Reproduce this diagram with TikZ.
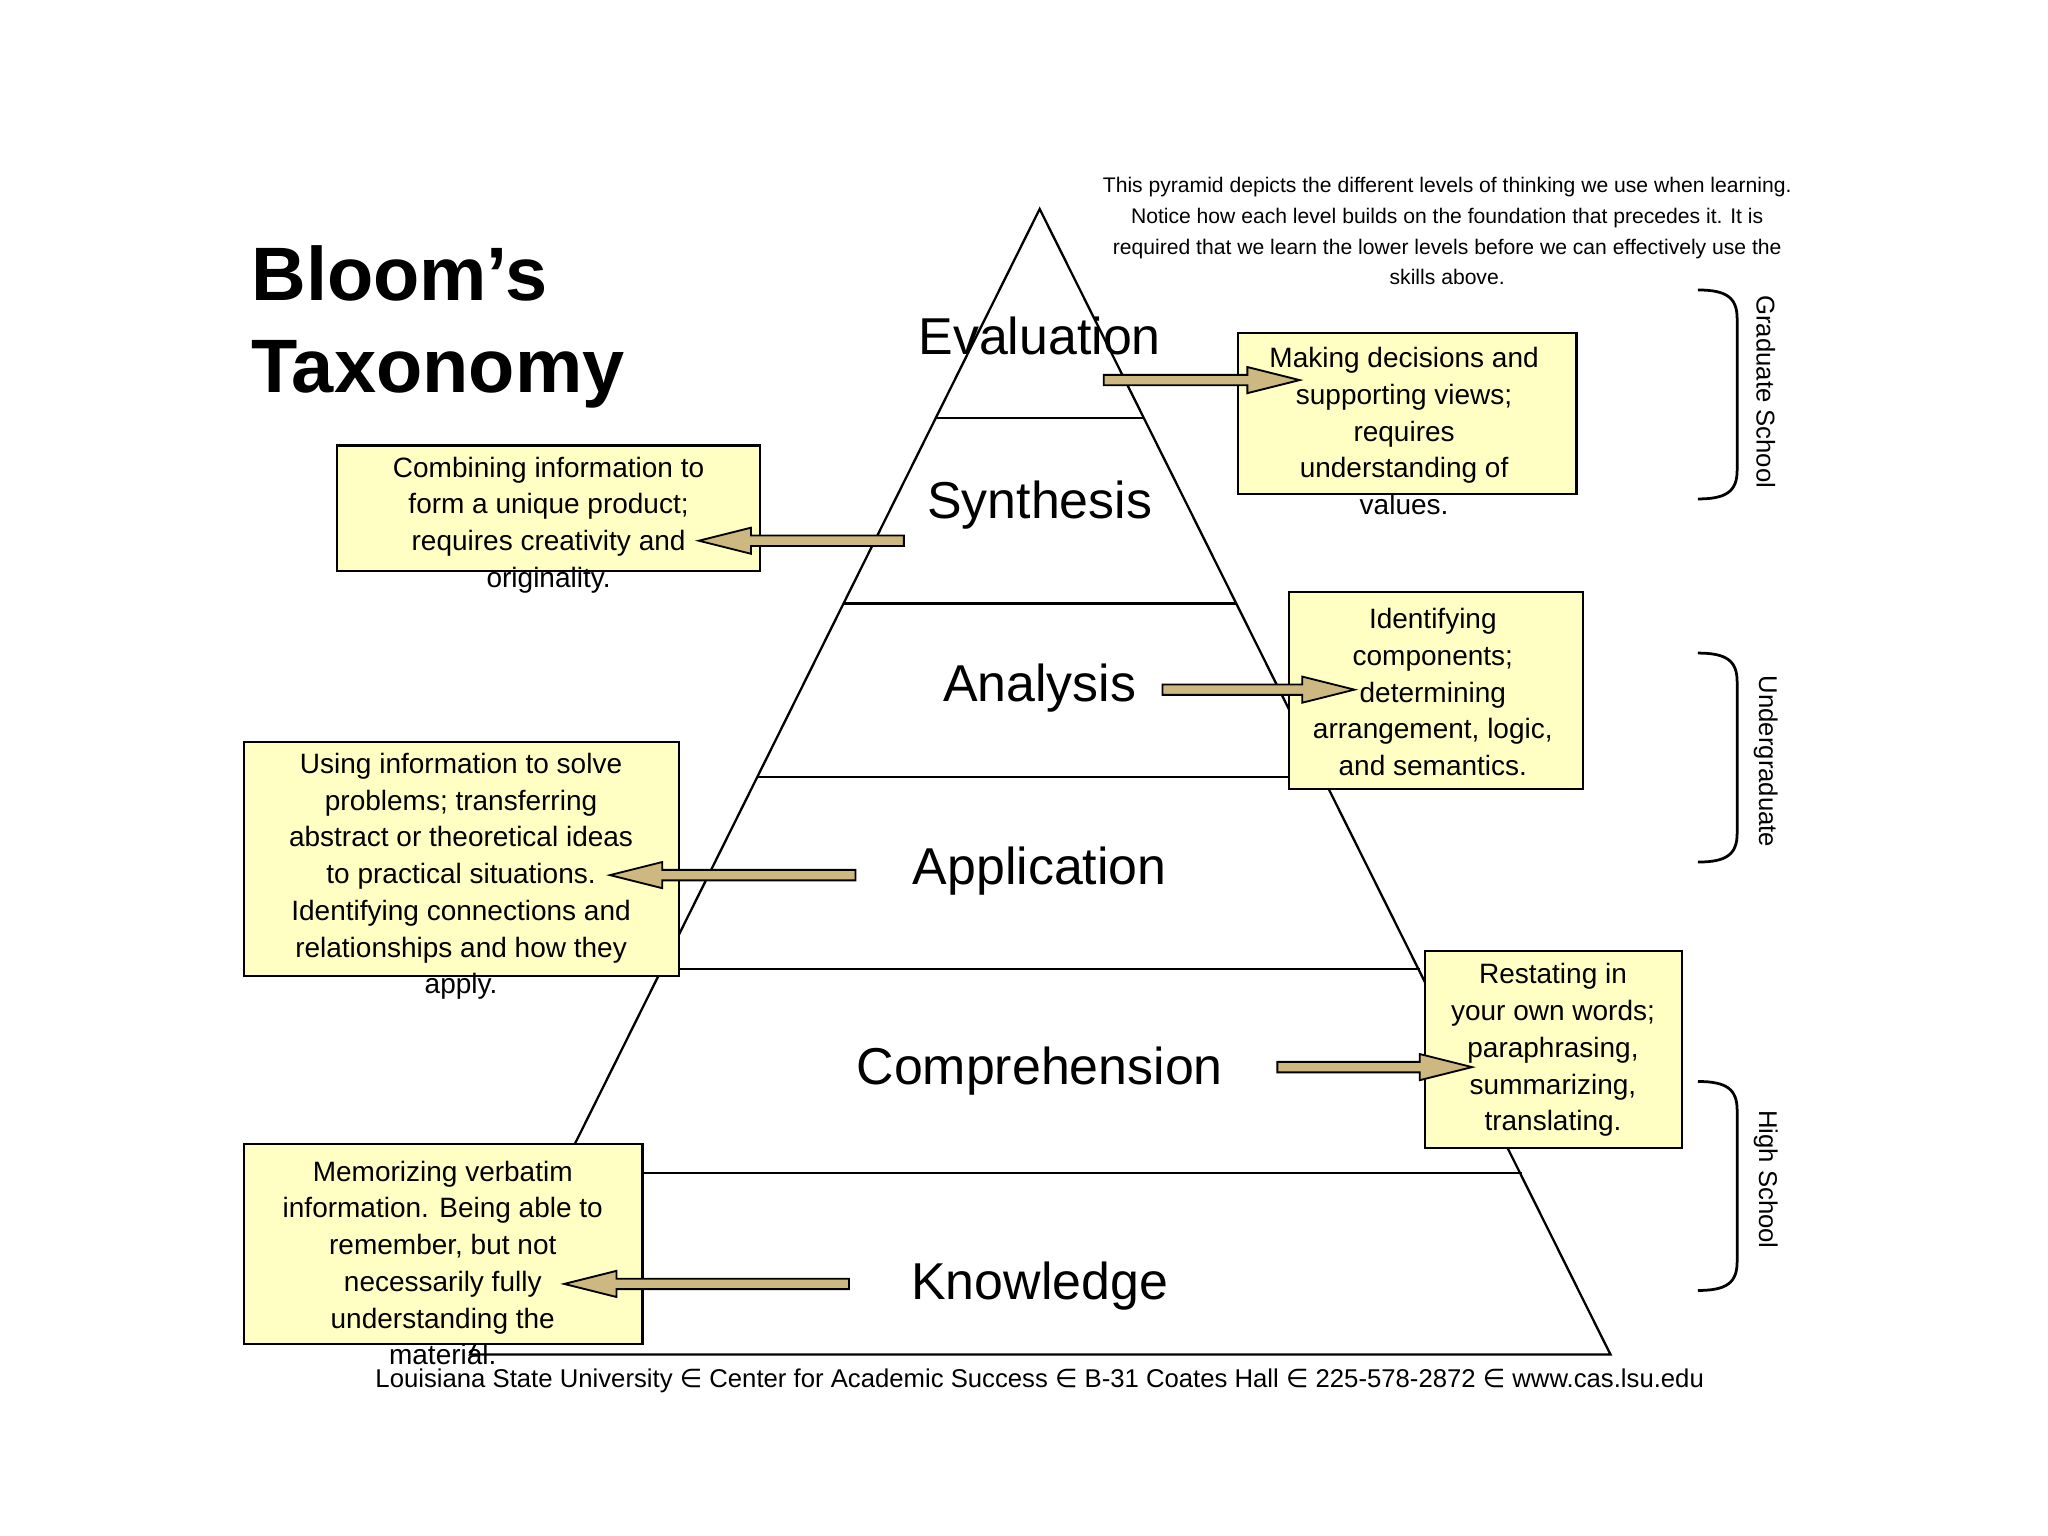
\documentclass[tikz,border=0pt]{standalone}
\usepackage{fontspec}
\setmainfont{Liberation Sans}
\newfontfamily\symf{DejaVu Sans}
\definecolor{tanfill}{RGB}{204,184,128}
\definecolor{boxfill}{RGB}{255,255,196}
\begin{document}
\begin{tikzpicture}[x=0.1mm,y=-0.1mm,
  lvl/.style={font=\fontsize{11.3}{13}\selectfont},
  boxbg/.style={draw=black,line width=0.5pt,fill=boxfill},
  boxtxt/.style={align=center,font=\fontsize{6.1}{8}\selectfont},
  fat/.style={draw=black,line width=0.4pt,fill=tanfill},
  brace/.style={line width=0.6pt}]
\useasboundingbox (0,0) rectangle (1568,1176);
% pyramid
\coordinate (apex) at (796,160);
\coordinate (bl) at (360,1037);
\coordinate (br) at (1233,1037);
\draw[line width=0.5pt] (bl) -- (apex) -- (br) -- cycle;
\draw[line width=0.5pt] (717,320)--(876,320);
\draw[line width=0.5pt] (646,462)--(946,462);
\draw[line width=0.5pt] (580,595)--(1013,595);
\draw[line width=0.5pt] (506,742)--(1087,742);
\draw[line width=0.5pt] (436,898)--(1165,898);
% levels
\node[lvl] (ev) at (796,257) {Evaluation};
\node[lvl] (sy) at (796,387) {Synthesis};
\node[lvl] (an) at (796,527) {Analysis};
\node[lvl] (ap) at (796,667) {Application};
\node[lvl] (co) at (796,820) {Comprehension};
\node[lvl] (kn) at (796,985) {Knowledge};
% boxes
\draw[boxbg] (948,255) rectangle (1207,378);
\draw[boxbg] (258,341) rectangle (582,437);
\draw[boxbg] (987,453) rectangle (1212,604);
\draw[boxbg] (187,568) rectangle (520,747);
\draw[boxbg] (1091,728) rectangle (1288,879);
\draw[boxbg] (187,876) rectangle (492,1029);
\node[boxtxt] (t1) at (1075,330) {Making decisions and\\supporting views;\\requires\\understanding of\\values.};
\node[boxtxt] (t2) at (420,402) {Combining information to\\form a unique product;\\requires creativity and\\originality.};
\node[boxtxt] (t3) at (1097,530) {Identifying\\components;\\determining\\arrangement, logic,\\and semantics.};
\node[boxtxt] (t4) at (353,671) {Using information to solve\\problems; transferring\\abstract or theoretical ideas\\to practical situations.\\Identifying connections and\\relationships and how they\\apply.};
\node[boxtxt] (t5) at (1189,804) {Restating in\\your own words;\\paraphrasing,\\summarizing,\\translating.};
\node[boxtxt] (t6) at (339,967) {Memorizing verbatim\\information. Being able to\\remember, but not\\necessarily fully\\understanding the\\material.};
% arrows: #1 start x, #2 tip x, #3 y, #4 direction (+1 right, -1 left)
\newcommand\fatarr[4]{\draw[fat] (#1,{#3-4}) -- ({#2-40*#4},{#3-4}) -- ({#2-40*#4},{#3-10}) -- (#2,#3) -- ({#2-40*#4},{#3+10}) -- ({#2-40*#4},{#3+4}) -- (#1,{#3+4}) -- cycle;}
\fatarr{845}{995}{291}{1}
\fatarr{692}{535}{414}{-1}
\fatarr{890}{1037}{528}{1}
\fatarr{655}{467}{670}{-1}
\fatarr{978}{1127}{817}{1}
\fatarr{650}{432}{983}{-1}
% title
\node[anchor=north west,align=left,font=\fontsize{16.5}{20}\selectfont\bfseries] (title) at (180,176) {Bloom’s\\Taxonomy};
% note
\node[align=center,font=\fontsize{4.6}{6.7}\selectfont] (note) at (1108,177) {This pyramid depicts the different levels of thinking we use when learning.\\Notice how each level builds on the foundation that precedes it. It is\\required that we learn the lower levels before we can effectively use the\\skills above.};
% braces
\newcommand\brk[2]{\draw[brace] (1300,#1) .. controls (1322,#1) and (1330,{#1+6}) .. (1330,{#1+22}) -- (1330,{#2-22}) .. controls (1330,{#2-6}) and (1322,#2) .. (1300,#2);}
\brk{222}{382}
\brk{500}{660}
\brk{828}{988}
\node[rotate=-90,font=\fontsize{5.6}{8}\selectfont] (gs) at (1352,300) {Graduate School};
\node[rotate=-90,font=\fontsize{5.6}{8}\selectfont] (ug) at (1352,583) {Undergraduate};
\node[rotate=-90,font=\fontsize{5.6}{8}\selectfont] (hs) at (1352,903) {High School};
% footer
\node[font=\fontsize{5.6}{8}\selectfont] (foot) at (796,1057) {Louisiana State University {\symf ∈} Center for Academic Success {\symf ∈} B-31 Coates Hall {\symf ∈} 225-578-2872 {\symf ∈} www.cas.lsu.edu};
\end{tikzpicture}
\end{document}
